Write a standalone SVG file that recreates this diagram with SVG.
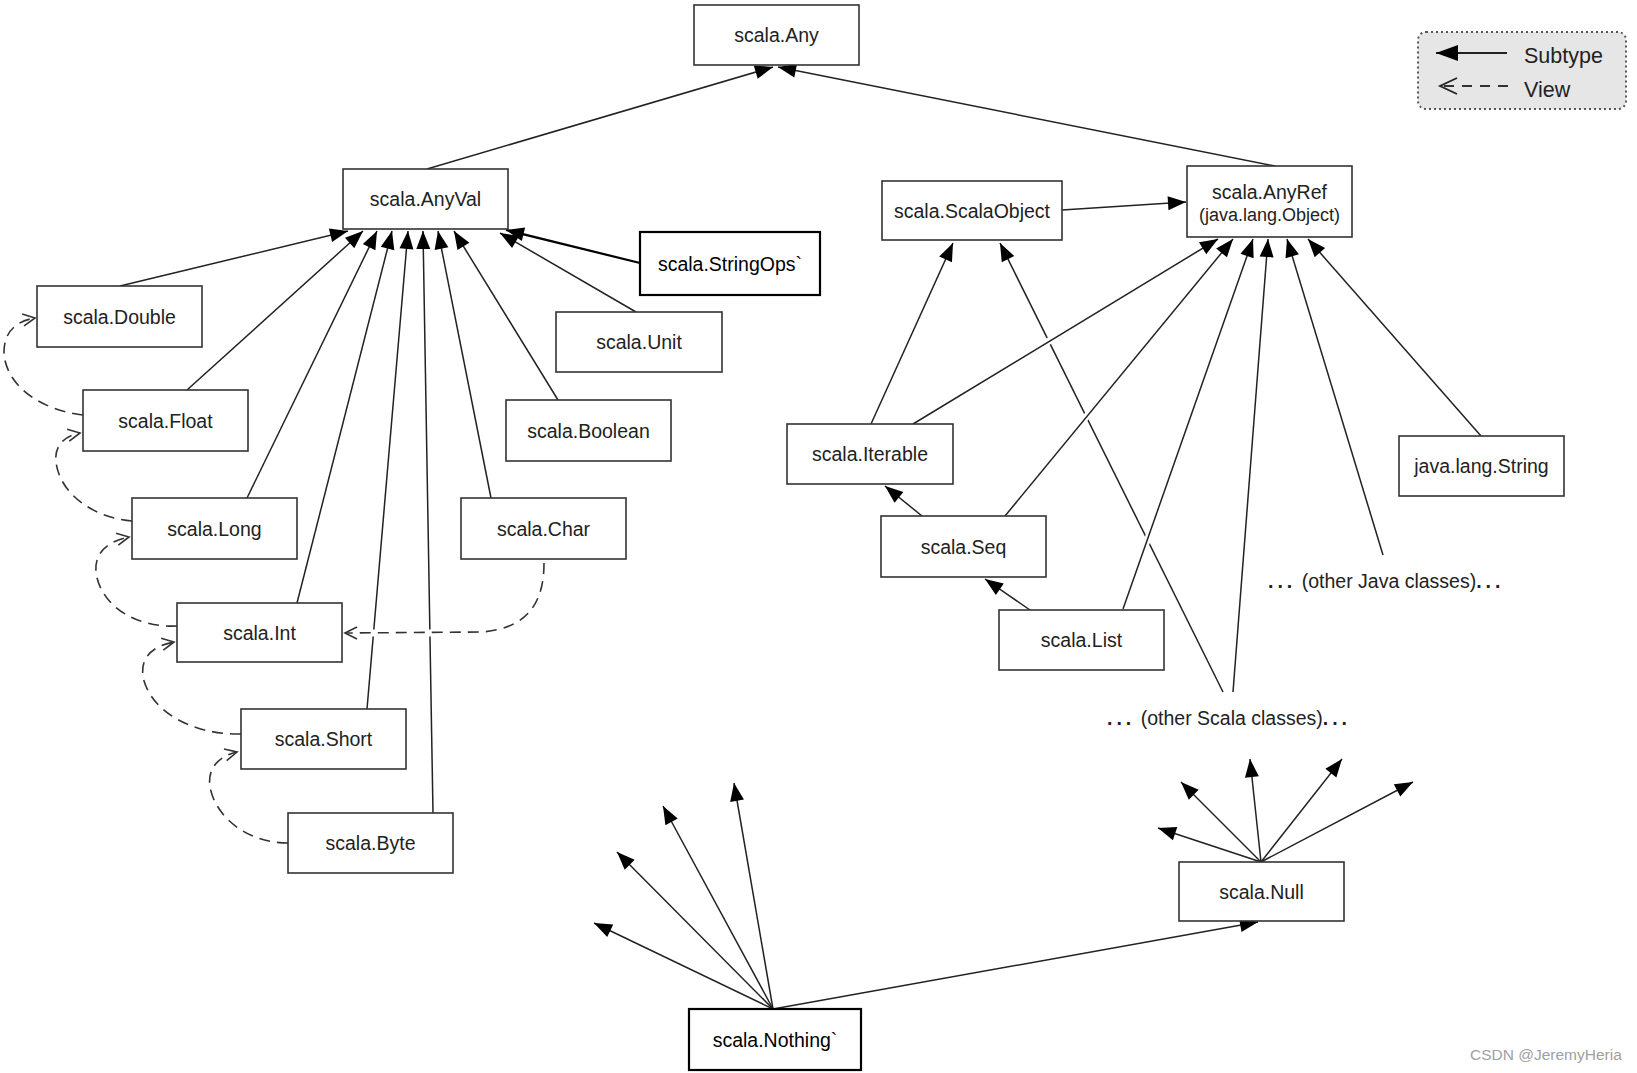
<svg xmlns="http://www.w3.org/2000/svg" width="1637" height="1073" viewBox="0 0 1637 1073">
<defs>
<style>
.box{fill:#fff;stroke:#333;stroke-width:1.6}
.boxb{fill:#fff;stroke:#000;stroke-width:2.2}
.lbl{font-family:"Liberation Sans",Arial,Helvetica,sans-serif;font-size:19.5px;fill:#222;text-anchor:middle}
.lblb{font-family:"Liberation Sans",Arial,Helvetica,sans-serif;font-size:19.5px;fill:#000;text-anchor:middle}
.free{font-family:"Liberation Sans",Arial,Helvetica,sans-serif;font-size:19.5px;fill:#222}
.dots{font-weight:bold;letter-spacing:4px}
.sub{fill:none;stroke:#222;stroke-width:1.5;marker-end:url(#tri)}
.subb{fill:none;stroke:#000;stroke-width:2.2;marker-end:url(#tri)}
.view{fill:none;stroke:#333;stroke-width:1.6;stroke-dasharray:11 7;marker-end:url(#open)}
.halo{fill:none;stroke:#fff;stroke-width:7}
</style>
<marker id="tri" markerUnits="userSpaceOnUse" markerWidth="18" markerHeight="14" refX="18" refY="7" orient="auto" overflow="visible">
<path d="M0,0 L18,7 L0,14 Z" fill="#000"/>
</marker>
<marker id="open" markerUnits="userSpaceOnUse" markerWidth="13" markerHeight="12" refX="12" refY="6" orient="auto" overflow="visible">
<path d="M0,0 L12,6 L0,12" fill="none" stroke="#333" stroke-width="1.6"/>
</marker>
<marker id="triL" markerUnits="userSpaceOnUse" markerWidth="22" markerHeight="16" refX="22" refY="8" orient="auto" overflow="visible">
<path d="M0,0 L22,8 L0,16 Z" fill="#000"/>
</marker>
<marker id="openL" markerUnits="userSpaceOnUse" markerWidth="18" markerHeight="16" refX="17" refY="8" orient="auto" overflow="visible">
<path d="M0,0 L17,8 L0,16" fill="none" stroke="#222" stroke-width="1.8"/>
</marker>
</defs>
<rect width="1637" height="1073" fill="#fff"/>

<g id="connectors">
<line class="sub" x1="427" y1="169" x2="773" y2="67"/>
<line class="sub" x1="1275" y1="166" x2="778" y2="67"/>
<line class="sub" x1="120" y1="286" x2="348" y2="231"/>
<line class="sub" x1="187" y1="390" x2="363" y2="231"/>
<line class="sub" x1="247" y1="498" x2="377" y2="231"/>
<line class="sub" x1="297" y1="603" x2="392" y2="231"/>
<line class="sub" x1="367" y1="709" x2="408" y2="231"/>
<line class="sub" x1="433" y1="813" x2="423" y2="231"/>
<line class="sub" x1="491" y1="498" x2="438" y2="231"/>
<line class="sub" x1="558" y1="400" x2="454" y2="231"/>
<line class="sub" x1="636" y1="312" x2="500" y2="233"/>
<line class="subb" x1="640" y1="263" x2="506" y2="230"/>
<path class="view" d="M83,415 C40,410 5,385 4,352 C4,332 16,321 35,318"/>
<path class="view" d="M132,521 C95,518 60,495 56,462 C54,446 64,436 80,433"/>
<path class="view" d="M177,626 C135,628 100,605 96,572 C94,553 108,541 129,537"/>
<path class="view" d="M241,734 C190,735 150,710 143,677 C140,657 153,646 174,642"/>
<path class="view" d="M288,843 C245,843 215,815 210,787 C207,767 220,756 237,752"/>
<line class="halo" x1="360" y1="633" x2="445" y2="633" stroke-width="18"/>
<path class="view" d="M544,563 C544,600 530,628 482,632 L345,633"/>
<line class="sub" x1="1062" y1="210" x2="1186" y2="202"/>
<line class="sub" x1="871" y1="424" x2="953" y2="243"/>
<line class="sub" x1="1223" y1="692" x2="1000" y2="243"/>
<line class="halo" x1="1040" y1="346.5" x2="1058" y2="335.5"/>
<line class="halo" x1="1080" y1="424" x2="1093" y2="409"/>
<line class="halo" x1="1144" y1="548" x2="1151" y2="531"/>
<line class="sub" x1="913" y1="424" x2="1218" y2="239"/>
<line class="sub" x1="922" y1="516" x2="885" y2="486"/>
<line class="sub" x1="1005" y1="516" x2="1233" y2="239"/>
<line class="sub" x1="1030" y1="610" x2="985" y2="579"/>
<line class="sub" x1="1123" y1="609" x2="1253" y2="239"/>
<line class="sub" x1="1233" y1="692" x2="1268" y2="239"/>
<line class="sub" x1="1383" y1="555" x2="1287" y2="239"/>
<line class="sub" x1="1481" y1="436" x2="1308" y2="239"/>
<line class="sub" x1="1261" y1="862" x2="1158" y2="828"/>
<line class="sub" x1="1261" y1="862" x2="1181" y2="782"/>
<line class="sub" x1="1261" y1="862" x2="1250" y2="759"/>
<line class="sub" x1="1261" y1="862" x2="1342" y2="759"/>
<line class="sub" x1="1261" y1="862" x2="1413" y2="782"/>
<line class="sub" x1="773" y1="1009" x2="594" y2="923"/>
<line class="sub" x1="773" y1="1009" x2="617" y2="852"/>
<line class="sub" x1="773" y1="1009" x2="663" y2="806"/>
<line class="sub" x1="773" y1="1009" x2="734" y2="783"/>
<line class="sub" x1="773" y1="1009" x2="1258" y2="922"/>
</g>

<g id="any"><rect class="box" x="694" y="5" width="165" height="60"/><text class="lbl" x="776.5" y="42">scala.Any</text></g>
<g id="anyval"><rect class="box" x="343" y="169" width="165" height="60"/><text class="lbl" x="425.5" y="206">scala.AnyVal</text></g>
<g id="anyref"><rect class="box" x="1187" y="166" width="165" height="71"/><text class="lbl" x="1269.5" y="199" font-size="20">scala.AnyRef</text><text class="lbl" x="1269.5" y="221" style="font-size:18px">(java.lang.Object)</text></g>
<g id="scalaobject"><rect class="box" x="882" y="181" width="180" height="59"/><text class="lbl" x="972" y="217.5">scala.ScalaObject</text></g>
<g id="stringops"><rect class="boxb" x="640" y="232" width="180" height="63"/><text class="lblb" x="730" y="270.5">scala.StringOps`</text></g>
<g id="double"><rect class="box" x="37" y="286" width="165" height="61"/><text class="lbl" x="119.5" y="323.5">scala.Double</text></g>
<g id="unit"><rect class="box" x="556" y="312" width="166" height="60"/><text class="lbl" x="639" y="349">scala.Unit</text></g>
<g id="float"><rect class="box" x="83" y="390" width="165" height="61"/><text class="lbl" x="165.5" y="427.5">scala.Float</text></g>
<g id="boolean"><rect class="box" x="506" y="400" width="165" height="61"/><text class="lbl" x="588.5" y="437.5">scala.Boolean</text></g>
<g id="long"><rect class="box" x="132" y="498" width="165" height="61"/><text class="lbl" x="214.5" y="535.5">scala.Long</text></g>
<g id="char"><rect class="box" x="461" y="498" width="165" height="61"/><text class="lbl" x="543.5" y="535.5">scala.Char</text></g>
<g id="int"><rect class="box" x="177" y="603" width="165" height="59"/><text class="lbl" x="259.5" y="639.5">scala.Int</text></g>
<g id="short"><rect class="box" x="241" y="709" width="165" height="60"/><text class="lbl" x="323.5" y="746">scala.Short</text></g>
<g id="byte"><rect class="box" x="288" y="813" width="165" height="60"/><text class="lbl" x="370.5" y="850">scala.Byte</text></g>
<g id="iterable"><rect class="box" x="787" y="424" width="166" height="60"/><text class="lbl" x="870" y="461">scala.Iterable</text></g>
<g id="seq"><rect class="box" x="881" y="516" width="165" height="61"/><text class="lbl" x="963.5" y="553.5">scala.Seq</text></g>
<g id="list"><rect class="box" x="999" y="610" width="165" height="60"/><text class="lbl" x="1081.5" y="647">scala.List</text></g>
<g id="string"><rect class="box" x="1399" y="436" width="165" height="60"/><text class="lbl" x="1481.5" y="473">java.lang.String</text></g>
<g id="other-java"><text class="free" x="1268" y="588"><tspan class="dots">...</tspan> (other Java classes)<tspan class="dots">...</tspan></text></g>
<g id="other-scala"><text class="free" x="1107" y="725"><tspan class="dots">...</tspan> (other Scala classes)<tspan class="dots">...</tspan></text></g>
<g id="null"><rect class="box" x="1179" y="862" width="165" height="59"/><text class="lbl" x="1261.5" y="898.5">scala.Null</text></g>
<g id="nothing"><rect class="boxb" x="689" y="1009" width="172" height="61"/><text class="lblb" x="775" y="1047">scala.Nothing`</text></g>

<g id="legend">
<rect x="1418" y="32" width="208" height="77" rx="8" fill="#e6e6e6" stroke="#555" stroke-width="2" stroke-dasharray="2 3"/>
<line x1="1507" y1="53" x2="1436" y2="53" stroke="#222" stroke-width="1.8" marker-end="url(#triL)"/>
<line x1="1508" y1="86" x2="1440" y2="86" stroke="#333" stroke-width="1.8" stroke-dasharray="10 8" marker-end="url(#openL)"/>
<text class="free" x="1524" y="63" style="font-size:21.5px">Subtype</text>
<text class="free" x="1524" y="97" style="font-size:21.5px">View</text>
</g>

<text x="1470" y="1060" style="font-family:'Liberation Sans',Arial,sans-serif;font-size:15.5px;fill:#a0a0a0">CSDN @JeremyHeria</text>
</svg>
